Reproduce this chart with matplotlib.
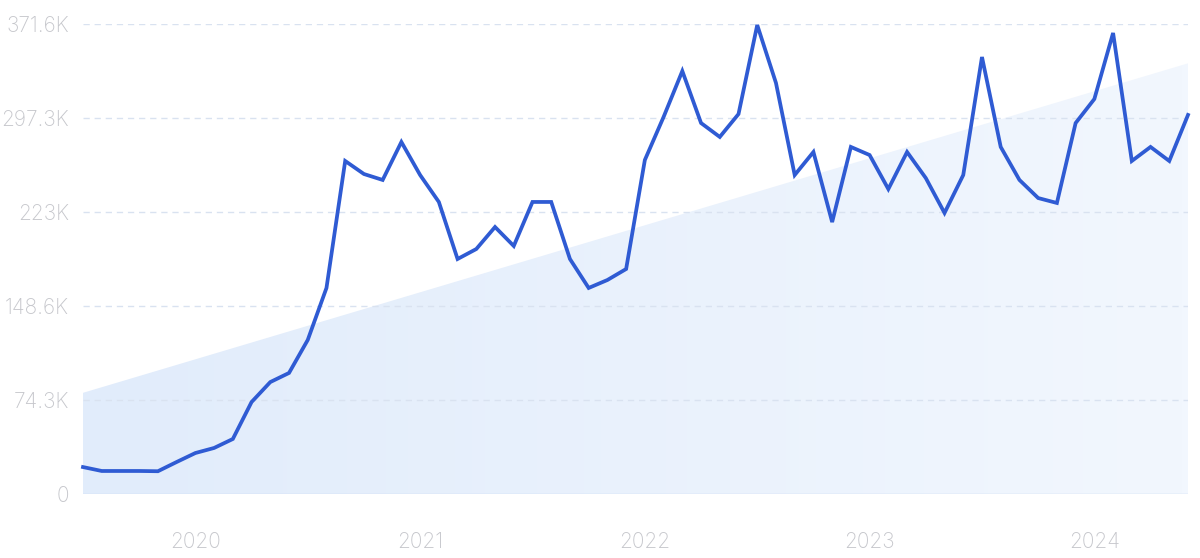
import numpy as np
import pandas as pd
import matplotlib
matplotlib.use("Agg")
import matplotlib.pyplot as plt
from matplotlib.colors import LinearSegmentedColormap

# ---- data (thousands) ----
months = pd.date_range("2019-07-01", "2024-06-01", freq="MS")
values_k = [21.3, 18.2, 18.2, 18.2, 18.0, 25.3, 32.4, 36.4, 43.5, 72.7,
            88.5, 95.7, 121.8, 162.9, 263.3, 253.0, 248.3, 278.3, 252.2, 230.9,
            185.8, 193.7, 211.1, 196.1, 230.9, 230.9, 185.8, 162.9, 169.2, 177.9,
            264.1, 298.1, 334.4, 293.3, 282.3, 300.4, 370.8, 325.0, 252.2, 270.4,
            215.0, 274.4, 268.0, 241.1, 270.4, 249.8, 222.2, 252.2, 345.5, 274.4,
            248.3, 234.0, 230.1, 293.3, 312.3, 364.5, 263.3, 274.4, 263.3, 299.7]
trend_start_k = 80.0
trend_end_k = 340.5
ytick_vals_k = [0, 74.3, 148.6, 223.0, 297.3, 371.6]
ytick_labels = ["0", "74.3K", "148.6K", "223K", "297.3K", "371.6K"]
xtick_years = ["2020", "2021", "2022", "2023", "2024"]

x = np.arange(len(values_k))
x_ticks = [months.get_loc(pd.Timestamp(f"{y}-01-01")) for y in xtick_years]

fig = plt.figure(figsize=(12, 5.58), dpi=100)
ax = fig.add_axes([83/1200, 64/558, (1188-83)/1200, (494-24)/558])

# trend area with gradient
x0, x1 = x[0], x[-1]
poly_x = [x0, x1, x1, x0]
poly_y = [0, 0, trend_end_k, trend_start_k]
poly = ax.fill(poly_x, poly_y, facecolor="none", edgecolor="none")[0]
cmap = LinearSegmentedColormap.from_list("g", ["#e1ecfb", "#f2f7fe"])
grad = np.linspace(0, 1, 256).reshape(1, -1)
im = ax.imshow(grad, extent=[x0, x1, 0, trend_end_k], aspect="auto",
               cmap=cmap, origin="lower", zorder=1, interpolation="bilinear")
im.set_clip_path(poly)

# grid
for v in ytick_vals_k[1:]:
    ax.axhline(v, color="#d9e2f0", lw=1.0, dashes=(4.5, 3.5), zorder=2)
ax.axhline(0, color="#c8d8f2", lw=1.0, zorder=2)

ax.plot(x, values_k, color="#2f5bd3", lw=2.7, zorder=3,
        solid_joinstyle="miter", clip_on=False)

ax.set_xlim(x0, x1)
ax.set_ylim(0, 371.6)
ax.set_yticks(ytick_vals_k)
ax.set_yticklabels(ytick_labels)
ax.set_xticks(x_ticks)
ax.set_xticklabels(xtick_years)
for s in ax.spines.values():
    s.set_visible(False)
ax.tick_params(axis="both", length=0, labelsize=15)
ax.tick_params(axis="y", pad=10)
ax.tick_params(axis="x", pad=27)
for lab in ax.get_xticklabels() + ax.get_yticklabels():
    lab.set_fontfamily("Inter")
    lab.set_fontweight("light")
    lab.set_color("#c6c7cc")

fig.savefig("out.png", dpi=100)
